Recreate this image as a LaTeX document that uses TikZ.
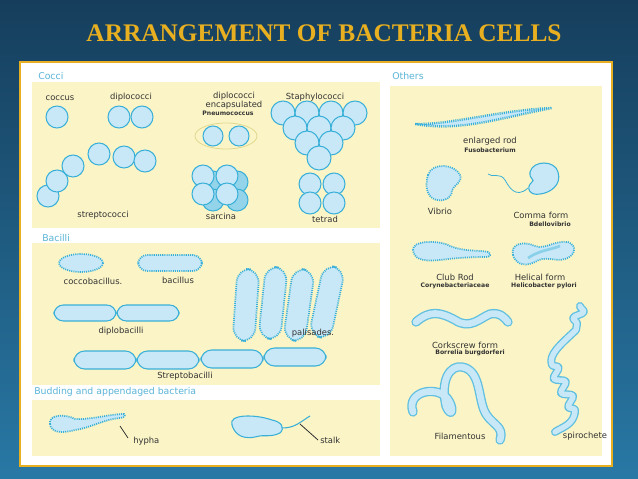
\documentclass[tikz,border=0pt]{standalone}
\usepackage{fontspec}
\setmainfont{DejaVu Sans}
\newfontfamily\titlefont{Liberation Serif}
\usetikzlibrary{decorations.pathmorphing}
\definecolor{cellfill}{HTML}{C8E8F8}
\definecolor{cellline}{HTML}{3AB0D8}
\definecolor{cream}{HTML}{FBF4C6}
\definecolor{gold}{HTML}{E8B020}
\definecolor{hdr}{HTML}{5AB4D8}
\definecolor{bgtop}{HTML}{163E5C}
\definecolor{bgbot}{HTML}{2878A5}
\definecolor{capsule}{HTML}{E0D890}
\tikzset{
 cell/.style={fill=cellfill,draw=cellline,line width=0.8pt},
 dcell/.style={fill=cellfill,draw=cellline,line width=1.3pt,dash pattern=on 0.8pt off 0.8pt},
 lbl/.style={font=\fontsize{6.3}{7}\selectfont,text=black!80,align=center,inner sep=0pt},
 sml/.style={font=\fontsize{4.6}{5}\selectfont\bfseries,text=black!80,align=center,inner sep=0pt},
 hd/.style={font=\fontsize{7}{8}\selectfont,text=hdr,anchor=west,inner sep=0pt},
 box/.style={fill=cream,draw=none},
 tubeout/.style={draw=cellline!80,line width=7pt,line cap=round,line join=round},
 tubein/.style={draw=cellfill,line width=5pt,line cap=round,line join=round},
}
\begin{document}
\begin{tikzpicture}[x=0.75pt,y=-0.75pt]
\useasboundingbox (0,0) rectangle (638,478);
\shade[top color=bgtop,bottom color=bgbot] (0,0) rectangle (638,478);
\node[font=\titlefont\bfseries\fontsize{19}{20}\selectfont,text=gold,inner sep=0pt] (title) at (324,33) {ARRANGEMENT OF BACTERIA CELLS};
\draw[fill=white,draw=gold,line width=0.8pt] (20,62) rectangle (612,466);
\fill[box] (32,82) rectangle (380,228);
\fill[box] (32,243) rectangle (380,385);
\fill[box] (32,400) rectangle (380,456);
\fill[box] (390,86) rectangle (602,456);
\node[hd] (hc) at (38,76) {Cocci};
\node[hd] (hb) at (42,238) {Bacilli};
\node[hd] (hbu) at (34,392) {Budding and appendaged bacteria};
\node[hd] (ho) at (392,76) {Others};
% cocci
\draw[cell] (57,117) circle (11);
\draw[cell] (119,117) circle (11); \draw[cell] (142,117) circle (11);
\draw[draw=capsule,line width=0.6pt] (226,136) ellipse (31 and 13);
\draw[cell] (213,136) circle (10); \draw[cell] (239,136) circle (10);
\foreach \x/\y in {283/113,307/113,331/113,355/113,295/128,319/128,343/128,307/143,331/143,319/158}
  \draw[cell] (\x,\y) circle (12);
\foreach \x/\y in {48/196,57/181,73/166,99/154,124/157,145/161}
  \draw[cell] (\x,\y) circle (11);
\foreach \x/\y in {213/182,237/182,213/200,237/200}
  \draw[cell,fill=cellline!55] (\x,\y) circle (11);
\foreach \x/\y in {203/176,227/176,203/194,227/194}
  \draw[cell] (\x,\y) circle (11);
\foreach \x/\y in {310/184,334/184,310/203,334/203}
  \draw[cell] (\x,\y) circle (11);
\node[lbl] (l1) at (60,98) {coccus};
\node[lbl] (l2) at (131,97) {diplococci};
\node[lbl] (l3) at (234,101) {diplococci\\encapsulated};
\node[sml] (l4) at (228,113) {Pneumococcus};
\node[lbl] (l5) at (315,97) {Staphylococci};
\node[lbl] (l6) at (103,215) {streptococci};
\node[lbl] (l7) at (221,216) {sarcina};
\node[lbl] (l8) at (325,219) {tetrad};
% bacilli
\draw[dcell] (81,263) ellipse (22 and 9);
\draw[dcell,rounded corners=7pt] (138,255) rectangle (202,271);
\node[lbl] (l9) at (93,281) {coccobacillus.};
\node[lbl] (l10) at (178,280) {bacillus};
\draw[cell,rounded corners=7pt] (54,305) rectangle (116,321);
\draw[cell,rounded corners=7pt] (117,305) rectangle (179,321);
\node[lbl] (l11) at (121,331) {diplobacilli};
\foreach \x/\y/\r in {246/305/-4,273/303/-6,299/305/-8,327/302/-12}
  \draw[dcell,rounded corners=10pt,rotate around={\r:(\x,\y)}] (\x-11,\y-36) rectangle (\x+11,\y+36);
\node[lbl] (l12) at (313,333) {palisades.};
\foreach \x/\y in {105/360,168/360,232/359,295/357}
  \draw[cell,rounded corners=8pt] (\x-31,\y-9) rectangle (\x+31,\y+9);
\node[lbl] (l13) at (185,376) {Streptobacilli};
% budding
\draw[dcell] (50,424) .. controls (48,414) and (66,414) .. (75,419) .. controls (90,420) and (110,414) .. (124,414) .. controls (126,416) and (124,418) .. (120,418) .. controls (105,419) and (90,428) .. (75,430) .. controls (60,434) and (51,432) .. (50,424) -- cycle;
\coordinate (hp) at (120,426);
\node[lbl,anchor=west] (l14) at (133,441) {hypha};
\draw[black!80,line width=0.6pt] (hp) -- (128,438);
\draw[cell] (232,425) .. controls (228,414) and (255,414) .. (272,420) .. controls (282,422) and (285,428) .. (280,433) .. controls (270,438) and (262,434) .. (255,437) .. controls (240,440) and (234,432) .. (232,425) -- cycle;
\draw[cellline,line width=0.8pt] (282,428) .. controls (295,428) and (300,422) .. (310,416);
\coordinate (sp) at (300,424);
\node[lbl,anchor=west] (l15) at (320,440) {stalk};
\draw[black!80,line width=0.6pt] (sp) -- (318,440);
% others
\draw[dcell,line width=1.8pt] (415,124) .. controls (450,125) and (500,110) .. (552,108) .. controls (500,118) and (460,132) .. (415,124) -- cycle;
\node[lbl] (l16) at (490,141) {enlarged rod};
\node[sml] (l17) at (490,150) {Fusobacterium};
\draw[dcell] (428,175) .. controls (432,162) and (455,164) .. (460,175) .. controls (463,182) and (454,185) .. (452,190) .. controls (452,200) and (440,203) .. (432,198) .. controls (425,192) and (426,182) .. (428,175) -- cycle;
\node[lbl] (l18) at (440,211) {Vibrio};
\draw[cell] (530,172) .. controls (533,160) and (555,160) .. (558,172) .. controls (562,185) and (550,193) .. (540,194) .. controls (530,196) and (525,188) .. (532,182) .. controls (536,180) and (528,178) .. (530,172) -- cycle;
\draw[cellline,line width=0.6pt] (528,188) .. controls (515,200) and (508,185) .. (505,180) .. controls (500,172) and (492,178) .. (488,174);
\node[lbl] (l19) at (541,215) {Comma form};
\node[sml] (l20) at (550,224) {Bdellovibrio};
\draw[dcell] (413,250) .. controls (412,240) and (440,240) .. (450,246) .. controls (465,252) and (480,250) .. (488,252) .. controls (492,254) and (490,257) .. (486,257) .. controls (470,257) and (455,258) .. (440,260) .. controls (420,262) and (414,258) .. (413,250) -- cycle;
\node[lbl] (l21) at (455,277) {Club Rod};
\node[sml] (l22) at (455,286) {Corynebacteriaceae};
\draw[dcell] (513,255) .. controls (510,245) and (522,240) .. (535,246) .. controls (545,250) and (555,240) .. (568,242) .. controls (578,246) and (575,256) .. (565,259) .. controls (555,262) and (545,255) .. (535,262) .. controls (522,268) and (515,262) .. (513,255) -- cycle;
\draw[cellline!60,line width=2pt] (528,258) .. controls (540,250) and (550,250) .. (560,246);
\node[lbl] (l23) at (540,277) {Helical form};
\node[sml] (l24) at (544,286) {Helicobacter pylori};
\draw[tubeout] (416,322) .. controls (430,310) and (440,312) .. (455,320) .. controls (470,330) and (480,318) .. (490,314) .. controls (500,312) and (505,318) .. (508,322);
\draw[tubein] (416,322) .. controls (430,310) and (440,312) .. (455,320) .. controls (470,330) and (480,318) .. (490,314) .. controls (500,312) and (505,318) .. (508,322);
\node[lbl] (l25) at (465,345) {Corkscrew form};
\node[sml] (l26) at (470,353) {Borrelia burgdorferi};
\def\filpath{(413,412) .. controls (406,392) and (435,385) .. (447,398) .. controls (455,408) and (452,420) .. (446,406) .. controls (440,380) and (450,365) .. (462,367) .. controls (480,370) and (478,395) .. (484,410) .. controls (490,425) and (505,425) .. (500,440)}
\draw[tubeout] \filpath; \draw[tubein] \filpath;
\node[lbl] (l27) at (460,436) {Filamentous};
\draw[tubeout,line width=6pt] (580,306) decorate[decoration={snake,amplitude=3.5pt,segment length=12pt}] {-- (576,330)} .. controls (560,345) and (548,355) .. (552,365) decorate[decoration={snake,amplitude=3.5pt,segment length=12pt}] {-- (575,410)} .. controls (575,425) and (560,428) .. (555,432);
\draw[tubein,line width=4pt] (580,306) decorate[decoration={snake,amplitude=3.5pt,segment length=12pt}] {-- (576,330)} .. controls (560,345) and (548,355) .. (552,365) decorate[decoration={snake,amplitude=3.5pt,segment length=12pt}] {-- (575,410)} .. controls (575,425) and (560,428) .. (555,432);
\node[lbl] (l28) at (585,436) {spirochete};
\end{tikzpicture}
\end{document}
